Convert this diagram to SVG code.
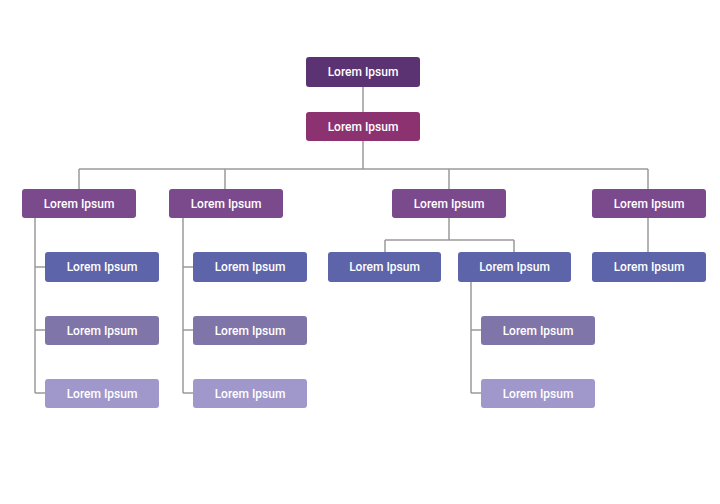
<svg xmlns="http://www.w3.org/2000/svg" width="720" height="504" viewBox="0 0 720 504">
<style>
.n rect{rx:3;ry:3}
.n text{font-family:Roboto,"Liberation Sans",sans-serif;font-size:12px;font-weight:500;fill:#fff;text-anchor:middle;dominant-baseline:central}
.c{fill:none;stroke:#9a9a9a;stroke-width:1.5}
.a{fill:#5b3373}.b{fill:#8d3271}.l2{fill:#7a4a8d}.l3{fill:#5d64a9}.m{fill:#8075a9}.p{fill:#a098ca}
</style>
<rect width="720" height="504" fill="#fff"/>
<g id="connectors" class="c">
<path d="M363 87V112M363 141V169M79 169H648M79 169V189M225 169V189M449 169V189M648 169V189"/>
<path d="M35 218V393M35 267H45M35 330H45M35 393H45"/>
<path d="M183 218V393M183 267H193M183 330H193M183 393H193"/>
<path d="M449 218V240M385 240H514M385 240V252M514 240V252"/>
<path d="M471 282V393M471 330H481M471 393H481"/>
<path d="M648 218V252"/>
</g>
<g id="n0" class="n"><rect class="a" x="306" y="57" width="114" height="30"/><text x="363" y="72">Lorem Ipsum</text></g>
<g id="n1" class="n"><rect class="b" x="306" y="112" width="114" height="29"/><text x="363" y="126.5">Lorem Ipsum</text></g>
<g id="n2" class="n"><rect class="l2" x="22" y="189" width="114" height="29"/><text x="79" y="203.5">Lorem Ipsum</text></g>
<g id="n3" class="n"><rect class="l2" x="169" y="189" width="114" height="29"/><text x="226" y="203.5">Lorem Ipsum</text></g>
<g id="n4" class="n"><rect class="l2" x="392" y="189" width="114" height="29"/><text x="449" y="203.5">Lorem Ipsum</text></g>
<g id="n5" class="n"><rect class="l2" x="592" y="189" width="114" height="29"/><text x="649" y="203.5">Lorem Ipsum</text></g>
<g id="n6" class="n"><rect class="l3" x="45" y="252" width="114" height="30"/><text x="102" y="267">Lorem Ipsum</text></g>
<g id="n7" class="n"><rect class="m" x="45" y="316" width="114" height="29"/><text x="102" y="330.5">Lorem Ipsum</text></g>
<g id="n8" class="n"><rect class="p" x="45" y="379" width="114" height="29"/><text x="102" y="393.5">Lorem Ipsum</text></g>
<g id="n9" class="n"><rect class="l3" x="193" y="252" width="114" height="30"/><text x="250" y="267">Lorem Ipsum</text></g>
<g id="n10" class="n"><rect class="m" x="193" y="316" width="114" height="29"/><text x="250" y="330.5">Lorem Ipsum</text></g>
<g id="n11" class="n"><rect class="p" x="193" y="379" width="114" height="29"/><text x="250" y="393.5">Lorem Ipsum</text></g>
<g id="n12" class="n"><rect class="l3" x="328" y="252" width="113" height="30"/><text x="384.5" y="267">Lorem Ipsum</text></g>
<g id="n13" class="n"><rect class="l3" x="458" y="252" width="113" height="30"/><text x="514.5" y="267">Lorem Ipsum</text></g>
<g id="n14" class="n"><rect class="m" x="481" y="316" width="114" height="29"/><text x="538" y="330.5">Lorem Ipsum</text></g>
<g id="n15" class="n"><rect class="p" x="481" y="379" width="114" height="29"/><text x="538" y="393.5">Lorem Ipsum</text></g>
<g id="n16" class="n"><rect class="l3" x="592" y="252" width="114" height="30"/><text x="649" y="267">Lorem Ipsum</text></g>
</svg>
